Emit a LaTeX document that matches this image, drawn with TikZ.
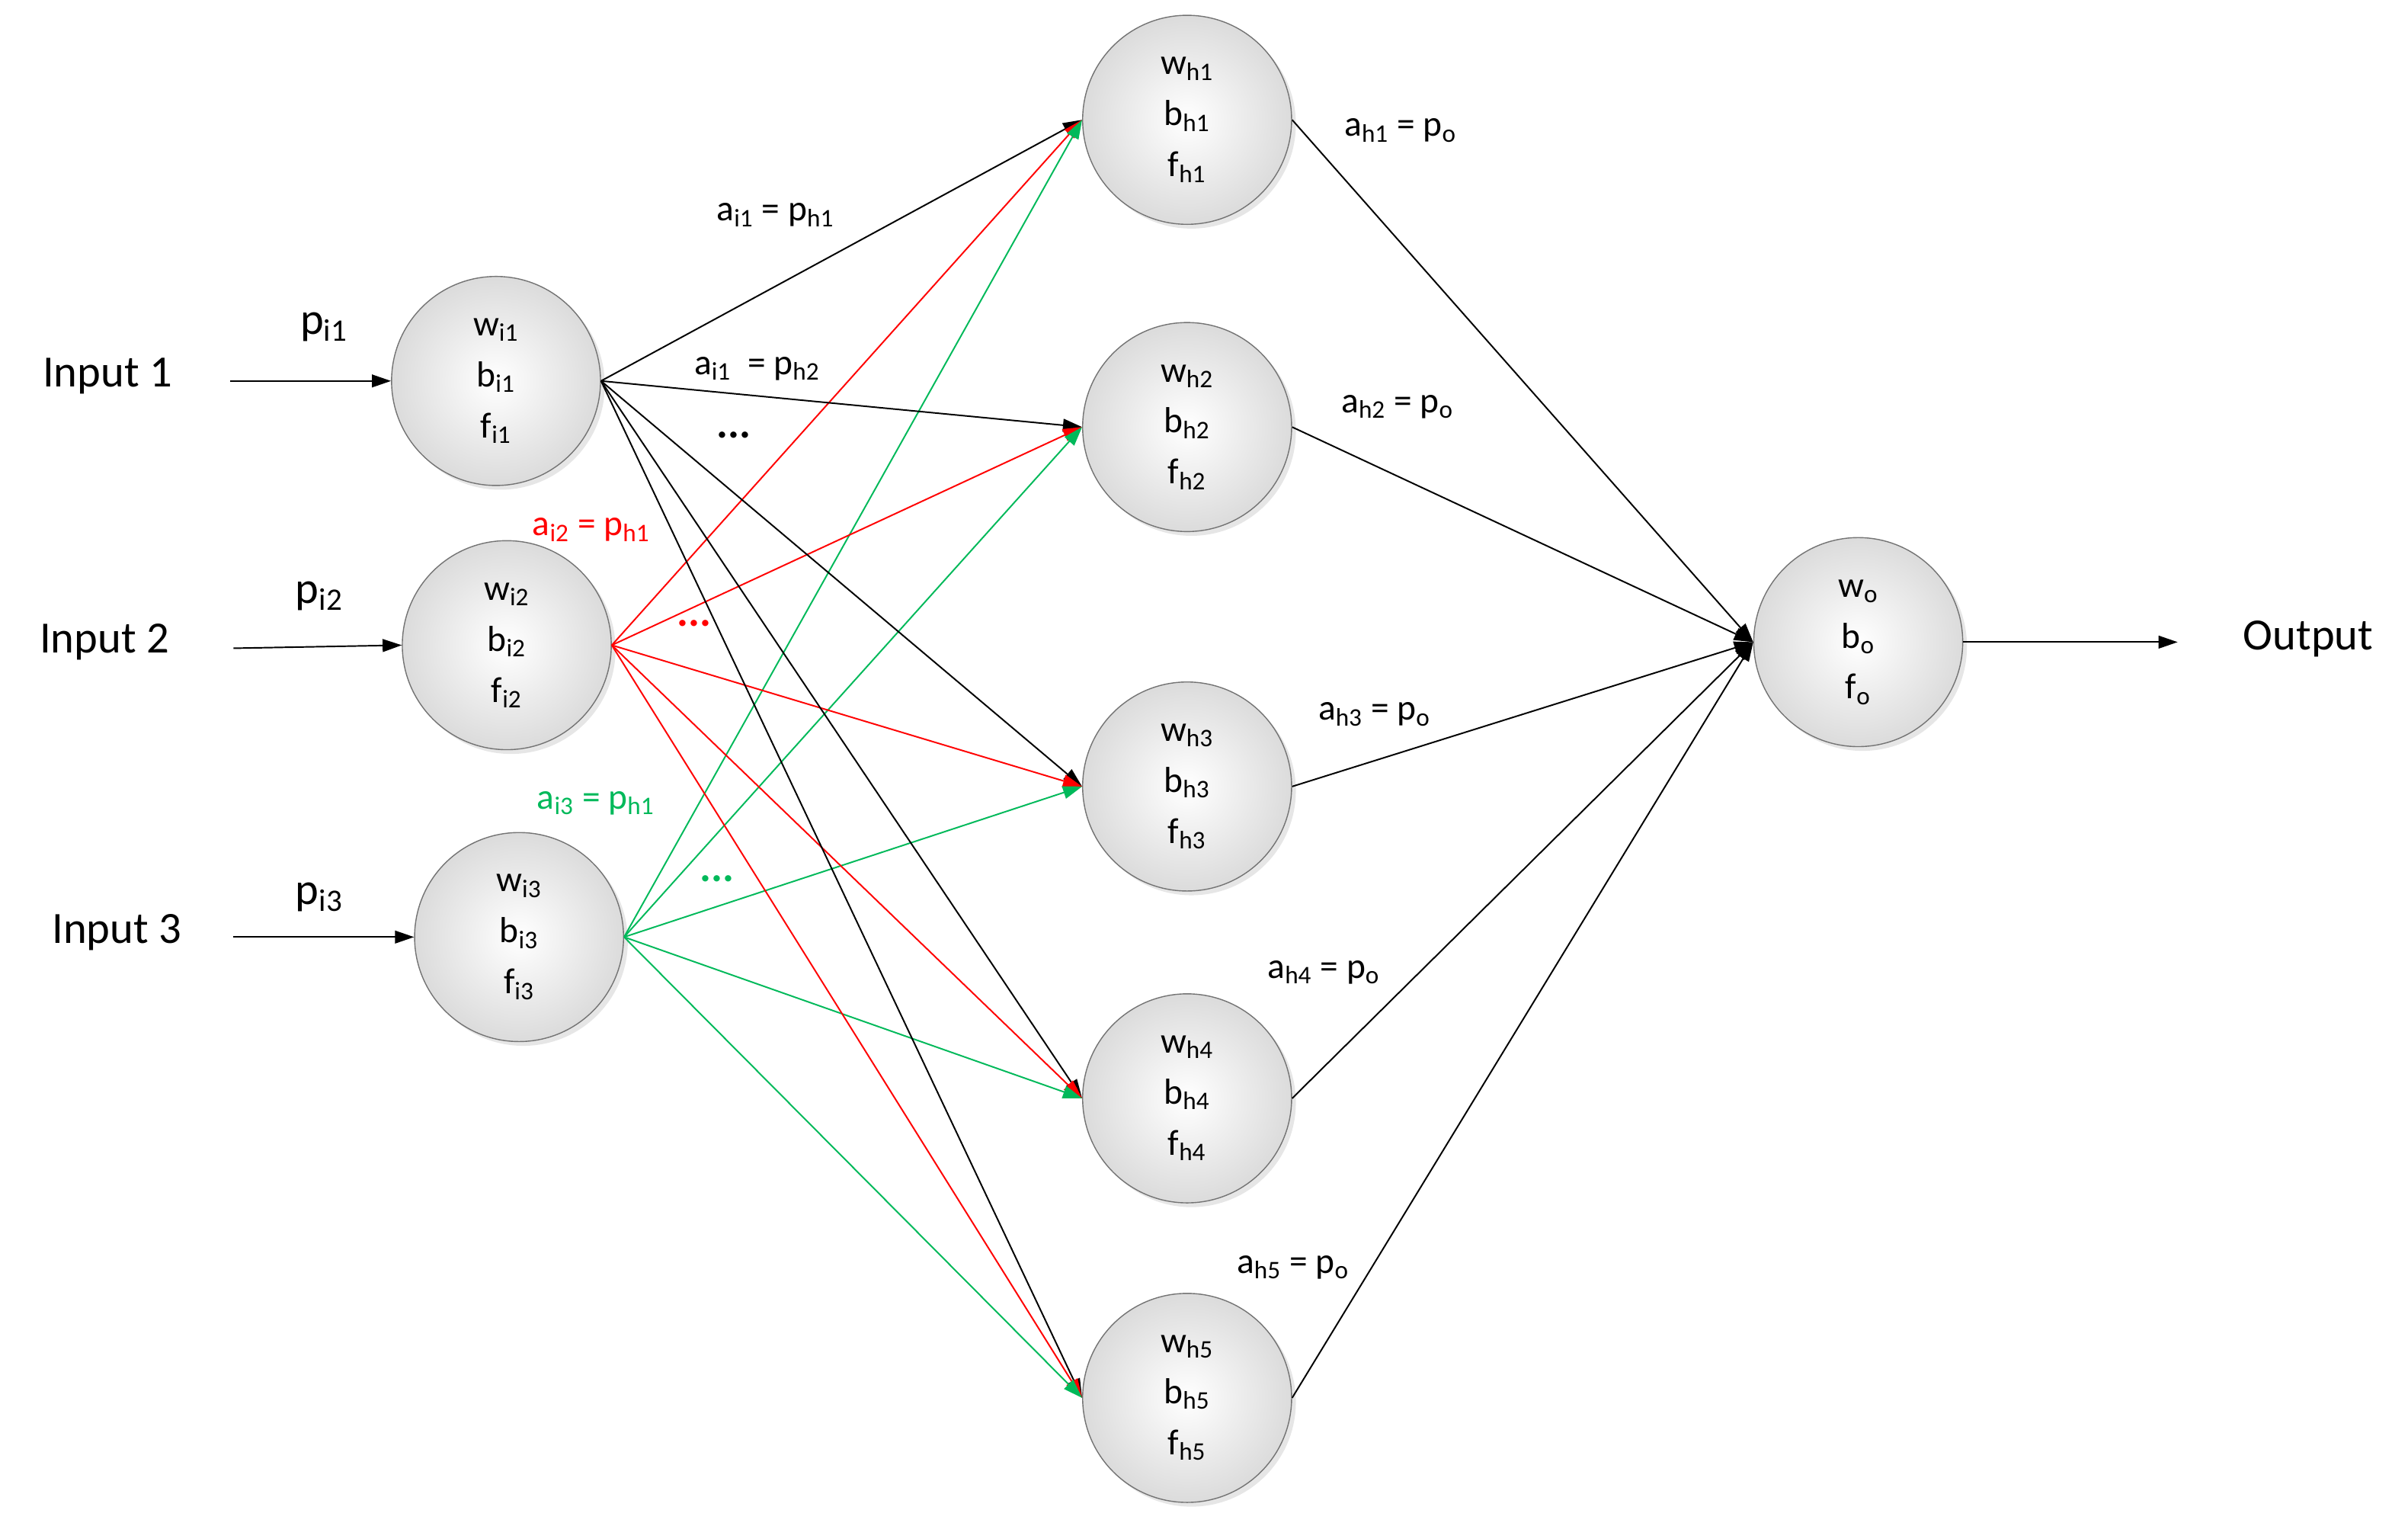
\documentclass[tikz,border=0pt]{standalone}
\usepackage{fontspec}
\setmainfont{Carlito}
\usetikzlibrary{arrows.meta,shadows}
\begin{document}
\begin{tikzpicture}[x=0.01in,y=-0.01in,
  neuron/.style={circle,draw=black!55,line width=0.5pt,minimum size=1.36in,inner sep=0pt,
    shade,shading=radial,inner color=white,outer color=black!14,drop shadow={opacity=0.2,shadow xshift=2pt,shadow yshift=-2pt},
    align=center,font=\fontsize{17}{24}\selectfont},
  lk/.style={line width=0.7pt,-{Triangle[length=9pt,width=6pt]}},
  lbl/.style={font=\fontsize{17}{19}\selectfont},
  dots/.style={font=\fontsize{20}{20}\selectfont\bfseries},
  big/.style={font=\fontsize{21}{24}\selectfont}]
\useasboundingbox (0,0) rectangle (1568,993);
\definecolor{grn}{RGB}{0,185,90}
\newcommand{\sub}[1]{\textsubscript{#1}}
\node[neuron] (i1) at (323,248) {w\sub{i1}\\b\sub{i1}\\f\sub{i1}};
\node[neuron] (i2) at (330,420) {w\sub{i2}\\b\sub{i2}\\f\sub{i2}};
\node[neuron] (i3) at (338,610) {w\sub{i3}\\b\sub{i3}\\f\sub{i3}};
\node[neuron] (h1) at (773,78) {w\sub{h1}\\b\sub{h1}\\f\sub{h1}};
\node[neuron] (h2) at (773,278) {w\sub{h2}\\b\sub{h2}\\f\sub{h2}};
\node[neuron] (h3) at (773,512) {w\sub{h3}\\b\sub{h3}\\f\sub{h3}};
\node[neuron] (h4) at (773,715) {w\sub{h4}\\b\sub{h4}\\f\sub{h4}};
\node[neuron] (h5) at (773,910) {w\sub{h5}\\b\sub{h5}\\f\sub{h5}};
\node[neuron] (o) at (1210,418) {w\sub{o}\\b\sub{o}\\f\sub{o}};
\node[big] (in1) at (70,245) {Input 1};
\node[big] (in2) at (68,418) {Input 2};
\node[big] (in3) at (76,607) {Input 3};
\node[big] (out) at (1503,416) {Output};
\coordinate (s1) at (150,248); \coordinate (s2) at (152,422); \coordinate (s3) at (152,610);
\coordinate (e) at (1418,418);
\draw[lk] (s1) -- (i1.west);
\draw[lk] (s2) -- (i2.west);
\draw[lk] (s3) -- (i3.west);
\draw[lk] (o.east) -- (e);
\node[big] at (211,213) {p\sub{i1}};
\node[big] at (208,388) {p\sub{i2}};
\node[big] at (208,584) {p\sub{i3}};
\foreach \h in {h1,h2,h3,h4,h5}{
  \draw[lk] (i1.east) -- (\h.west);
  \draw[lk,red] (i2.east) -- (\h.west);
  \draw[lk,grn] (i3.east) -- (\h.west);
  \draw[lk] (\h.east) -- (o.west);
}
\node[lbl] at (505,140) {a\sub{i1} = p\sub{h1}};
\node[lbl] at (493,240) {a\sub{i1} \ = p\sub{h2}};
\node[dots] at (478,283) {...};
\node[lbl,red] at (385,345) {a\sub{i2} = p\sub{h1}};
\node[dots,red] at (452,406) {...};
\node[lbl,grn] at (388,523) {a\sub{i3} = p\sub{h1}};
\node[dots,grn] at (467,572) {...};
\node[lbl] at (912,85) {a\sub{h1} = p\sub{o}};
\node[lbl] at (910,265) {a\sub{h2} = p\sub{o}};
\node[lbl] at (895,465) {a\sub{h3} = p\sub{o}};
\node[lbl] at (862,633) {a\sub{h4} = p\sub{o}};
\node[lbl] at (842,825) {a\sub{h5} = p\sub{o}};
\end{tikzpicture}
\end{document}
